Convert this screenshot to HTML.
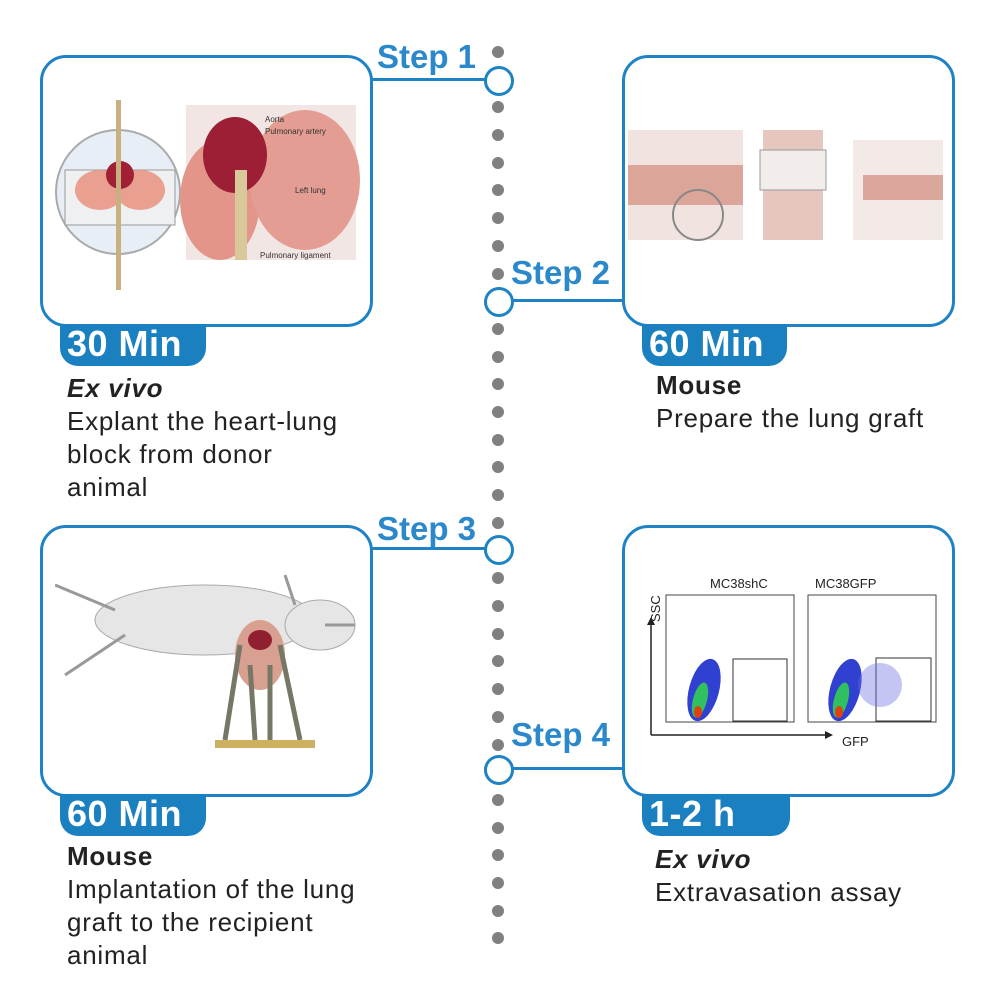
<!DOCTYPE html>
<html><head><style>
body{margin:0;width:996px;height:996px;background:#fff;position:relative;overflow:hidden;font-family:"Liberation Sans",sans-serif;}
.box{position:absolute;border:3px solid #1e82c4;border-radius:26px;background:#fff;box-sizing:border-box;}
.tab{position:absolute;background:#1a80c0;color:#fff;font-weight:bold;font-size:36px;border-radius:0 0 18px 18px;box-sizing:border-box;padding-left:7px;line-height:40px;letter-spacing:0.5px;}
.step{position:absolute;color:#2a88cb;font-weight:bold;font-size:33px;}
.hl{position:absolute;height:3px;background:#1e82c4;}
.ring{position:absolute;width:24px;height:24px;border:3px solid #1e82c4;border-radius:50%;background:#fff;}
.dot{position:absolute;width:12px;height:12px;border-radius:50%;background:#808080;left:492px;}
.txt{position:absolute;font-size:26px;color:#222;line-height:33px;letter-spacing:0.75px;}
</style></head><body>
<div id="dots"></div>
<script>
var d=document.getElementById('dots'),h='';
for(var y=46;y<940;y+=27.7)h+='<div class="dot" style="top:'+y.toFixed(0)+'px"></div>';
d.innerHTML=h;
</script>

<div class="box" style="left:40px;top:55px;width:333px;height:272px;"></div>
<svg style="position:absolute;left:50px;top:90px" width="310" height="200">
<circle cx="68" cy="160" r="62" fill="#e8eef5" stroke="#aaa" stroke-width="2" transform="translate(0,-58)"/>
<rect x="15" y="80" width="110" height="55" fill="#eef0f2" stroke="#999"/>
<ellipse cx="50" cy="100" rx="25" ry="20" fill="#e9a090"/><ellipse cx="90" cy="100" rx="25" ry="20" fill="#e9a090"/>
<ellipse cx="70" cy="85" rx="14" ry="14" fill="#a02035"/>
<rect x="66" y="10" width="5" height="190" fill="#c8b080"/>
<rect x="136" y="15" width="170" height="155" fill="#f2e6e4"/>
<ellipse cx="170" cy="110" rx="40" ry="60" fill="#e4958a"/><ellipse cx="255" cy="90" rx="55" ry="70" fill="#e49d92"/>
<ellipse cx="185" cy="65" rx="32" ry="38" fill="#9c1f35"/>
<rect x="185" y="80" width="12" height="90" fill="#d8c89a"/>
<text x="215" y="32" font-size="8" fill="#333">Aorta</text><text x="215" y="44" font-size="8" fill="#333">Pulmonary artery</text>
<text x="245" y="103" font-size="8" fill="#333">Left lung</text><text x="210" y="168" font-size="8" fill="#333">Pulmonary ligament</text>
</svg>
<div class="tab" style="left:60px;top:324px;width:146px;height:42px;">30 Min</div>
<div class="hl" style="left:372px;top:78px;width:115px;"></div>
<div class="ring" style="left:484px;top:66px;"></div>
<div class="step" style="left:377px;top:38px;">Step 1</div>
<div class="txt" style="left:67px;top:372px;"><b><i>Ex vivo</i></b><br>Explant the heart-lung<br>block from donor<br>animal</div>

<div class="box" style="left:622px;top:55px;width:333px;height:272px;"></div>
<svg style="position:absolute;left:628px;top:120px" width="322" height="130">
<rect x="0" y="10" width="115" height="110" fill="#f1e4e0"/><rect x="0" y="45" width="115" height="40" fill="#dca59a"/>
<circle cx="70" cy="95" r="25" fill="none" stroke="#888" stroke-width="2"/>
<rect x="135" y="10" width="60" height="110" fill="#e6c7c0"/><rect x="132" y="30" width="66" height="40" fill="#f2eceb" stroke="#999"/>
<rect x="225" y="20" width="90" height="100" fill="#f3e9e6"/><rect x="235" y="55" width="80" height="25" fill="#dba69c"/>
</svg>
<div class="tab" style="left:642px;top:324px;width:145px;height:42px;">60 Min</div>
<div class="hl" style="left:509px;top:299px;width:115px;"></div>
<div class="ring" style="left:484px;top:287px;"></div>
<div class="step" style="left:511px;top:254px;">Step 2</div>
<div class="txt" style="left:656px;top:369px;"><b>Mouse</b><br>Prepare the lung graft</div>

<div class="box" style="left:40px;top:525px;width:333px;height:272px;"></div>
<svg style="position:absolute;left:55px;top:565px" width="310" height="210">
<ellipse cx="150" cy="55" rx="110" ry="35" fill="#e6e6e6" stroke="#aaa"/>
<ellipse cx="265" cy="60" rx="35" ry="25" fill="#e6e6e6" stroke="#aaa"/>
<path d="M0 20 L60 45 M10 110 L70 70 M230 10 L240 40 M270 60 L300 60" stroke="#999" stroke-width="3"/>
<ellipse cx="205" cy="90" rx="25" ry="35" fill="#d8a090"/><ellipse cx="205" cy="75" rx="12" ry="10" fill="#902030"/>
<path d="M185 80 L170 175 M225 80 L245 175 M195 100 L200 175 M215 100 L215 175" stroke="#776" stroke-width="5"/>
<rect x="160" y="175" width="100" height="8" fill="#cdb060"/>
</svg>
<div class="tab" style="left:60px;top:794px;width:146px;height:42px;">60 Min</div>
<div class="hl" style="left:372px;top:547px;width:115px;"></div>
<div class="ring" style="left:484px;top:535px;"></div>
<div class="step" style="left:377px;top:510px;">Step 3</div>
<div class="txt" style="left:67px;top:840px;"><b>Mouse</b><br>Implantation of the lung<br>graft to the recipient<br>animal</div>

<div class="box" style="left:622px;top:525px;width:333px;height:272px;"></div>
<svg style="position:absolute;left:640px;top:570px" width="310" height="180" font-family="Liberation Sans">
<text x="70" y="18" font-size="13" fill="#222">MC38shC</text><text x="175" y="18" font-size="13" fill="#222">MC38GFP</text>
<rect x="26" y="25" width="128" height="127" fill="none" stroke="#444"/>
<rect x="168" y="25" width="128" height="127" fill="none" stroke="#444"/>
<rect x="93" y="89" width="54" height="62" fill="none" stroke="#333"/>
<rect x="236" y="88" width="55" height="63" fill="none" stroke="#333"/>
<ellipse cx="64" cy="120" rx="15" ry="32" fill="#3040d0" transform="rotate(15 64 120)"/>
<ellipse cx="60" cy="130" rx="7" ry="18" fill="#30c060" transform="rotate(15 60 130)"/>
<ellipse cx="58" cy="142" rx="4" ry="6" fill="#e04010"/>
<ellipse cx="205" cy="120" rx="15" ry="32" fill="#3040d0" transform="rotate(15 205 120)"/>
<ellipse cx="201" cy="130" rx="7" ry="18" fill="#30c060" transform="rotate(15 201 130)"/>
<ellipse cx="199" cy="142" rx="4" ry="6" fill="#e04010"/>
<ellipse cx="240" cy="115" rx="22" ry="22" fill="#6b6de0" opacity="0.4"/>
<path d="M11 165 L11 52 M11 165 L190 165" stroke="#222" stroke-width="1.5"/>
<path d="M7 55 L11 47 L15 55Z M185 161 L193 165 L185 169Z" fill="#222"/>
<text x="0" y="0" font-size="13" fill="#222" transform="translate(20,52) rotate(-90)">SSC</text>
<text x="202" y="176" font-size="13" fill="#222">GFP</text>
</svg>
<div class="tab" style="left:642px;top:794px;width:148px;height:42px;">1-2 h</div>
<div class="hl" style="left:509px;top:767px;width:115px;"></div>
<div class="ring" style="left:484px;top:755px;"></div>
<div class="step" style="left:511px;top:716px;">Step 4</div>
<div class="txt" style="left:655px;top:843px;"><b><i>Ex vivo</i></b><br>Extravasation assay</div>
</body></html>
